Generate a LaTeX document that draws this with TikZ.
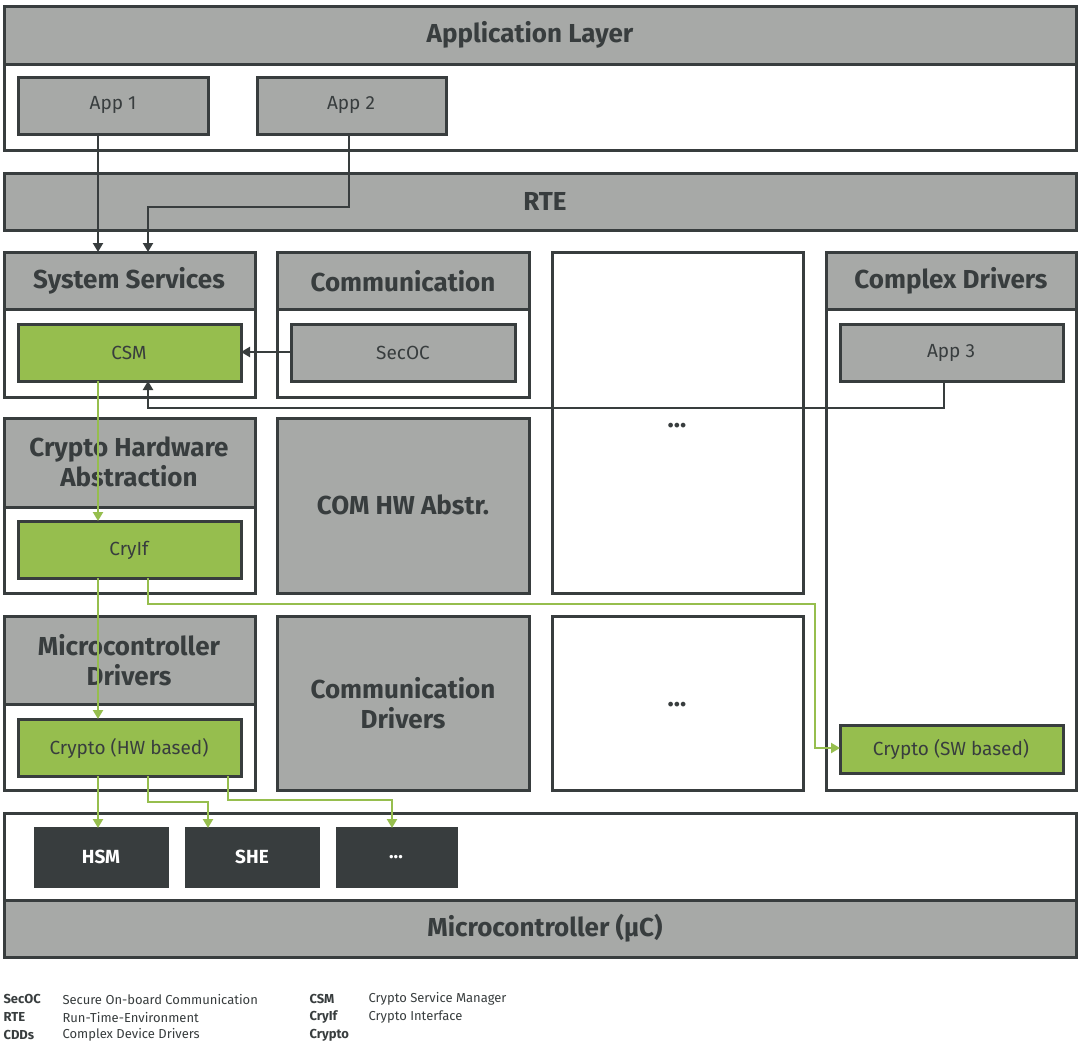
\documentclass[tikz,border=0pt]{standalone}
\usepackage{fontspec}
\setmainfont{Fira Sans}
\usetikzlibrary{arrows.meta}
\definecolor{gr}{HTML}{A7A9A7}
\definecolor{dk}{HTML}{383D3E}
\definecolor{gn}{HTML}{96BE4E}
\begin{document}
\begin{tikzpicture}[x=1pt,y=-1pt,
 frame/.style={draw=dk,line width=3pt,fill=white},
 hdr/.style={draw=dk,line width=3pt,fill=gr},
 box/.style={draw=dk,line width=3pt,fill=gr},
 gbox/.style={draw=dk,line width=3pt,fill=gn},
 dbox/.style={draw=dk,line width=3pt,fill=dk},
 ht/.style={text=dk,font=\bfseries\fontsize{26}{30}\selectfont,align=center},
 bt/.style={text=dk,font=\fontsize{19}{22}\selectfont},
 dt/.style={text=white,font=\bfseries\fontsize{19}{22}\selectfont},
 blk/.style={-{Triangle[length=9pt,width=10pt]},draw=dk,line width=2.5pt},
 grn/.style={-{Triangle[length=9pt,width=10pt]},draw=gn,line width=2.5pt},
 lb/.style={anchor=west,text=dk,font=\bfseries\fontsize{13}{15}\selectfont},
 lt/.style={anchor=west,text=dk,font=\fontsize{13}{15}\selectfont}]
\useasboundingbox (0,0) rectangle (1080,1052);
% Application layer
\path[frame] (4,6) rectangle (1076,150);
\path[hdr] (4,6) rectangle (1076,64);
\node[ht] (al) at (530,35) {Application Layer};
\path[box] (18,77) rectangle (208,134); \node[bt] (a1) at (113,105) {App 1};
\path[box] (257,77) rectangle (446,134); \node[bt] (a2) at (351,105) {App 2};
% RTE
\path[hdr] (4,173) rectangle (1076,230);
\node[ht] (rte) at (545,201) {RTE};
% System services
\path[frame] (4,252) rectangle (255,397);
\path[hdr] (4,252) rectangle (255,309);
\node[ht] (ss) at (129,281) {System Services};
\path[gbox] (18,324) rectangle (241,381); \node[bt] (csm) at (129,353) {CSM};
% Communication
\path[frame] (277,252) rectangle (529,397);
\path[hdr] (277,252) rectangle (529,309);
\node[ht] (com) at (403,281) {Communication};
\path[box] (291,324) rectangle (515,381); \node[bt] (sec) at (403,353) {SecOC};
% blanks
\path[frame] (552,252) rectangle (803,593);
\node[ht] (d1) at (677,426) {...};
\path[frame] (552,616) rectangle (803,790);
\node[ht] (d2) at (677,705) {...};
% Complex drivers
\path[frame] (826,252) rectangle (1076,790);
\path[hdr] (826,252) rectangle (1076,309);
\node[ht] (cd) at (951,281) {Complex Drivers};
\path[box] (840,324) rectangle (1063,381); \node[bt] (a3) at (951,353) {App 3};
\path[gbox] (840,725) rectangle (1063,773); \node[bt] (csw) at (951,749) {Crypto (SW based)};
% Crypto HW abstraction
\path[frame] (4,418) rectangle (255,593);
\path[hdr] (4,418) rectangle (255,507);
\node[ht] (cha) at (129,462) {Crypto Hardware\\Abstraction};
\path[gbox] (18,521) rectangle (241,578); \node[bt] (cryif) at (129,550) {CryIf};
% COM HW
\path[hdr] (277,418) rectangle (529,593);
\node[ht] (chw) at (403,505) {COM HW Abstr.};
% MCU drivers
\path[frame] (4,616) rectangle (255,790);
\path[hdr] (4,616) rectangle (255,704);
\node[ht] (mcd) at (129,660) {Microcontroller\\Drivers};
\path[gbox] (18,719) rectangle (241,776); \node[bt] (chwb) at (129,748) {Crypto (HW based)};
% Communication drivers
\path[hdr] (277,616) rectangle (529,790);
\node[ht] (cdr) at (403,703) {Communication\\Drivers};
% Microcontroller
\path[frame] (4,813) rectangle (1076,957);
\path[hdr] (4,900) rectangle (1076,957);
\node[ht] (mc) at (545,928) {Microcontroller (µC)};
\path[dbox] (35,828) rectangle (167,886); \node[dt] (hsm) at (101,857) {HSM};
\path[dbox] (186,828) rectangle (318,886); \node[dt] (she) at (252,857) {SHE};
\path[dbox] (337,828) rectangle (456,886); \node[dt] (dd) at (396,857) {...};
% black arrows
\coordinate (p1) at (98,134); \coordinate (q1) at (98,252);
\draw[blk] (p1) -- (q1);
\coordinate (p2) at (349,134); \coordinate (q2) at (148,252);
\draw[blk] (p2) -- (349,207) -- (148,207) -- (q2);
\coordinate (p3) at (291,352); \coordinate (q3) at (241,352);
\draw[blk] (p3) -- (q3);
\coordinate (p4) at (944,381); \coordinate (q4) at (148,381);
\draw[blk] (p4) -- (944,408) -- (148,408) -- (q4);
% green arrows
\coordinate (g1) at (98,381); \coordinate (h1) at (98,521);
\draw[grn] (g1) -- (h1);
\coordinate (g2) at (98,578); \coordinate (h2) at (98,719);
\draw[grn] (g2) -- (h2);
\coordinate (g3) at (148,578); \coordinate (h3) at (840,748);
\draw[grn] (g3) -- (148,604) -- (815,604) -- (815,748) -- (h3);
\coordinate (g4) at (98,776); \coordinate (h4) at (98,828);
\draw[grn] (g4) -- (h4);
\coordinate (g5) at (148,776); \coordinate (h5) at (208,828);
\draw[grn] (g5) -- (148,802) -- (208,802) -- (h5);
\coordinate (g6) at (228,776); \coordinate (h6) at (392,828);
\draw[grn] (g6) -- (228,800) -- (392,800) -- (h6);
% legend
\node[lb] (l1) at (0,999) {SecOC}; \node[lt] (l1t) at (59,999) {Secure On-board Communication};
\node[lb] (l2) at (0,1017) {RTE}; \node[lt] (l2t) at (59,1017) {Run-Time-Environment};
\node[lb] (l3) at (0,1035) {CDDs}; \node[lt] (l3t) at (59,1035) {Complex Device Drivers};
\node[lb] (l4) at (306,999) {CSM}; \node[lt] (l4t) at (365,999) {Crypto Service Manager};
\node[lb] (l5) at (306,1017) {CryIf}; \node[lt] (l5t) at (365,1017) {Crypto Interface};
\node[lb] (l6) at (306,1035) {Crypto};
\end{tikzpicture}
\end{document}
